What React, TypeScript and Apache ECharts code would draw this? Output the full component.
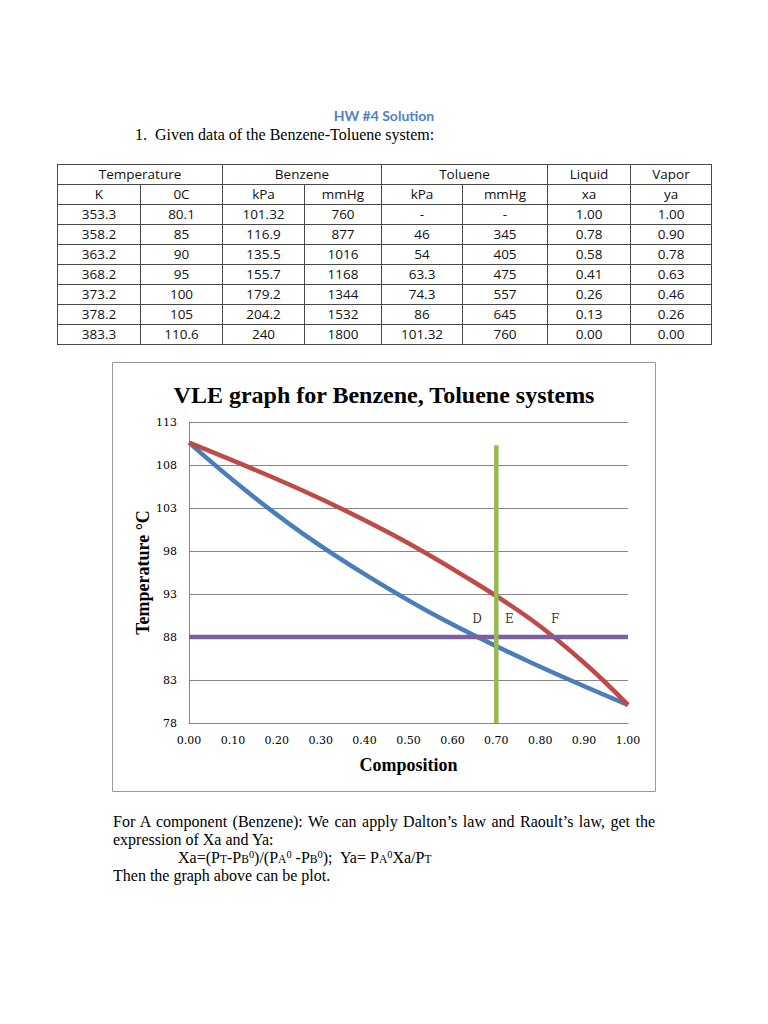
import React, { useEffect, useRef } from "react";
import * as echarts from "echarts";

// Benzene-Toluene vapor pressure data
const tempK = ["353.3", "358.2", "363.2", "368.2", "373.2", "378.2", "383.3"];
const tempC = [80.1, 85, 90, 95, 100, 105, 110.6];
const benzeneKPa = ["101.32", "116.9", "135.5", "155.7", "179.2", "204.2", "240"];
const benzeneMmHg = ["760", "877", "1016", "1168", "1344", "1532", "1800"];
const tolueneKPa = ["-", "46", "54", "63.3", "74.3", "86", "101.32"];
const tolueneMmHg = ["-", "345", "405", "475", "557", "645", "760"];
const liquidXa = [1.0, 0.78, 0.58, 0.41, 0.26, 0.13, 0.0];
const vaporYa = [1.0, 0.9, 0.78, 0.63, 0.46, 0.26, 0.0];

// construction lines on the diagram
const tieLineT = 88;
const tieLineX = [0, 1];
const compositionX = 0.7;
const compositionT = [78, 110.3];

// point labels D, E, F along the tie line
const pointNames = ["D", "E", "F"];
const pointX = [0.656, 0.73, 0.834];
const pointT = 90.1;

// axis settings
const yTicks = { min: 78, max: 113, step: 5 };
const xTicks = { min: 0, max: 1, step: 0.1 };

const SERIF = "'Liberation Serif', 'Times New Roman', serif";
const SERIF_WIDE = "'DejaVu Serif', serif";
const SANS = "'Open Sans', Lato, sans-serif";

const colWidths = [83, 82, 82, 77, 81, 85, 83, 81];

function VleChart() {
  const ref = useRef<HTMLDivElement>(null);
  useEffect(() => {
    if (!ref.current) return;
    const chart = echarts.init(ref.current, undefined, { renderer: "svg" });
    const liquid = tempC.map((t, i) => [liquidXa[i], t]);
    const vapor = tempC.map((t, i) => [vaporYa[i], t]);
    const axisGray = "#868686";
    chart.setOption({
      animation: false,
      backgroundColor: "#fff",
      textStyle: { fontFamily: SERIF },
      title: {
        text: "VLE graph for Benzene, Toluene systems",
        left: "center",
        top: 16,
        textStyle: { fontFamily: SERIF, fontSize: 24, fontWeight: "bold", color: "#000" },
      },
      graphic: [
        {
          type: "rect",
          shape: { x: 0.5, y: 0.5, width: 543, height: 429 },
          style: { fill: "none", stroke: "#9a9a9a", lineWidth: 1 },
          silent: true,
        },
      ],
      grid: { left: 77, right: 28, top: 60, bottom: 69 },
      xAxis: {
        type: "value",
        min: xTicks.min,
        max: xTicks.max,
        interval: xTicks.step,
        name: "Composition",
        nameLocation: "middle",
        nameGap: 33,
        nameMoveOverlap: false,
        nameTextStyle: { fontFamily: SERIF, fontSize: 18, fontWeight: "bold", color: "#000" },
        axisLine: { show: true, lineStyle: { color: axisGray, width: 1 } },
        axisTick: { show: false },
        splitLine: { show: false },
        axisLabel: {
          formatter: (v: number) => v.toFixed(2),
          fontFamily: SERIF_WIDE,
          fontSize: 11,
          color: "#000",
          margin: 12,
        },
      },
      yAxis: {
        type: "value",
        min: yTicks.min,
        max: yTicks.max,
        interval: yTicks.step,
        name: "Temperature °C",
        nameLocation: "middle",
        nameGap: 37,
        nameMoveOverlap: false,
        nameTextStyle: { fontFamily: SERIF, fontSize: 18, fontWeight: "bold", color: "#000" },
        axisLine: { show: true, lineStyle: { color: axisGray, width: 1 } },
        axisTick: { show: false },
        splitLine: { show: true, lineStyle: { color: axisGray, width: 1 } },
        axisLabel: { fontFamily: SERIF_WIDE, fontSize: 11, color: "#000", margin: 12 },
      },
      series: [
        {
          name: "Liquid",
          type: "line",
          data: liquid,
          smooth: 0.4,
          showSymbol: false,
          lineStyle: { color: "#4a7ebb", width: 4.5 },
          z: 2,
        },
        {
          name: "Vapor",
          type: "line",
          data: vapor,
          smooth: 0.4,
          showSymbol: false,
          lineStyle: { color: "#be4b48", width: 4.5 },
          z: 2,
        },
        {
          name: "Tie line",
          type: "line",
          data: tieLineX.map((x) => [x, tieLineT]),
          showSymbol: false,
          lineStyle: { color: "#7d60a0", width: 4.5 },
          z: 3,
        },
        {
          name: "Composition line",
          type: "line",
          data: compositionT.map((t) => [compositionX, t]),
          showSymbol: false,
          lineStyle: { color: "#98b954", width: 4.5 },
          z: 4,
        },
        {
          name: "Points",
          type: "scatter",
          symbolSize: 0,
          data: pointNames.map((n, i) => ({ name: n, value: [pointX[i], pointT] })),
          label: {
            show: true,
            position: "inside",
            formatter: (p: any) => p.name,
            fontFamily: SERIF_WIDE,
            fontSize: 12,
            color: "#000",
          },
          z: 5,
        },
      ],
    });
    return () => chart.dispose();
  }, []);
  return (
    <div
      ref={ref}
      style={{ position: "absolute", left: 112, top: 362, width: 544, height: 430 }}
    />
  );
}

function DataTable() {
  const cell: React.CSSProperties = {
    border: "1px solid #4a4a4a",
    height: 19,
    padding: 0,
    textAlign: "center",
    verticalAlign: "middle",
  };
  const rows = tempK.map((k, i) => [
    k,
    String(tempC[i]),
    benzeneKPa[i],
    benzeneMmHg[i],
    tolueneKPa[i],
    tolueneMmHg[i],
    liquidXa[i].toFixed(2),
    vaporYa[i].toFixed(2),
  ]);
  return (
    <table
      style={{
        position: "absolute",
        left: 57,
        top: 164,
        width: 654,
        borderCollapse: "collapse",
        tableLayout: "fixed",
        fontFamily: SANS,
        fontSize: 13.5,
        color: "#111",
        lineHeight: "19px",
      }}
    >
      <colgroup>
        {colWidths.map((w, i) => (
          <col key={i} style={{ width: w }} />
        ))}
      </colgroup>
      <tbody>
        <tr>
          <td style={cell} colSpan={2}>Temperature</td>
          <td style={cell} colSpan={2}>Benzene</td>
          <td style={cell} colSpan={2}>Toluene</td>
          <td style={cell}>Liquid</td>
          <td style={cell}>Vapor</td>
        </tr>
        <tr>
          {["K", "0C", "kPa", "mmHg", "kPa", "mmHg", "xa", "ya"].map((h, i) => (
            <td key={i} style={cell}>{h}</td>
          ))}
        </tr>
        {rows.map((r, i) => (
          <tr key={i}>
            {r.map((v, j) => (
              <td key={j} style={cell}>{v}</td>
            ))}
          </tr>
        ))}
      </tbody>
    </table>
  );
}

export default function App() {
  const small: React.CSSProperties = { fontSize: "0.72em", lineHeight: 0 };
  const sup: React.CSSProperties = {
    fontSize: "0.65em",
    verticalAlign: "0.45em",
    lineHeight: 0,
  };
  const text: React.CSSProperties = {
    position: "absolute",
    fontFamily: SERIF,
    fontSize: 16,
    color: "#000",
    whiteSpace: "nowrap",
    lineHeight: "18px",
  };
  return (
    <div
      style={{
        position: "absolute",
        left: 0,
        top: 0,
        width: 768,
        height: 1024,
        background: "#fff",
        overflow: "hidden",
      }}
    >
      <div
        style={{
          position: "absolute",
          left: 0,
          width: 768,
          top: 107,
          textAlign: "center",
          fontFamily: "Lato, sans-serif",
          fontWeight: "bold",
          fontSize: 14,
          color: "#4f81bd",
          lineHeight: "18px",
        }}
      >
        HW #4 Solution
      </div>
      <div style={{ ...text, left: 135, top: 126 }}>1.</div>
      <div style={{ ...text, left: 155, top: 126 }}>
        Given data of the Benzene-Toluene system:
      </div>
      <DataTable />
      <VleChart />
      <div
        style={{
          ...text,
          left: 113,
          top: 813,
          width: 542,
          textAlign: "justify",
          textAlignLast: "justify",
        }}
      >
        For A component (Benzene): We can apply Dalton’s law and Raoult’s law, get the
      </div>
      <div style={{ ...text, left: 113, top: 831 }}>expression of Xa and Ya:</div>
      <div style={{ ...text, left: 178, top: 849, height: 18 }}>
        Xa=(P<span style={small}>T</span>-P<span style={small}>B</span>
        <span style={sup}>0</span>)/(P<span style={small}>A</span>
        <span style={sup}>0</span> -P<span style={small}>B</span>
        <span style={sup}>0</span>);&nbsp; Ya= P<span style={small}>A</span>
        <span style={sup}>0</span>Xa/P<span style={small}>T</span>
      </div>
      <div style={{ ...text, left: 113, top: 867 }}>Then the graph above can be plot.</div>
    </div>
  );
}
